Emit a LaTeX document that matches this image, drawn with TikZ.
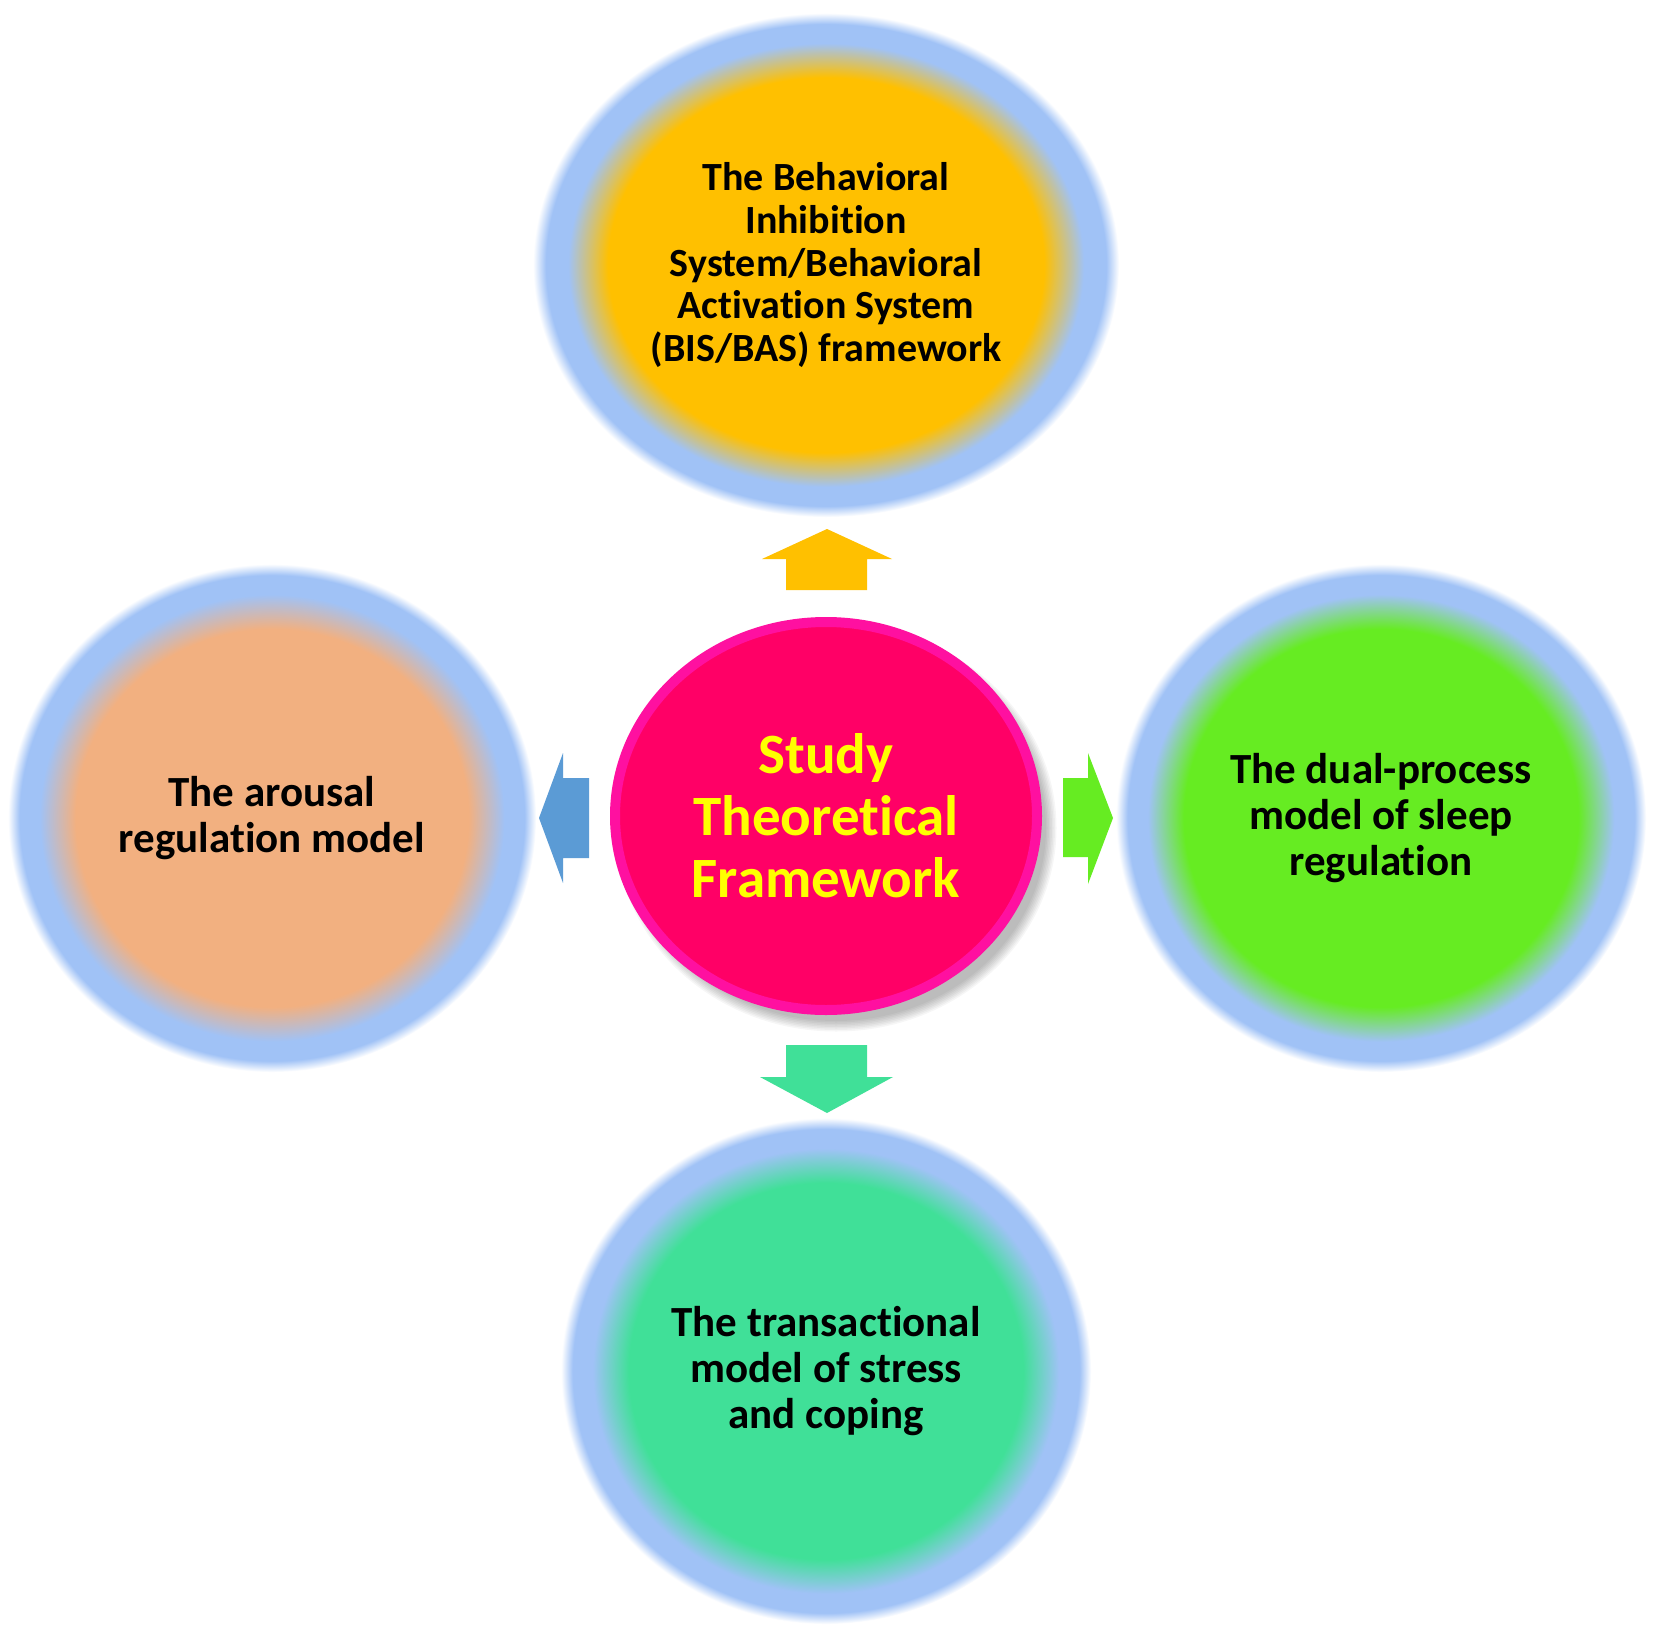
\documentclass[tikz,border=0pt]{standalone}
\usepackage{fontspec}
\setmainfont{Carlito}[Ligatures=NoCommon]
\usetikzlibrary{shapes.geometric}
\definecolor{ringblue}{RGB}{160,194,246}
\definecolor{cOrange}{RGB}{255,192,0}
\definecolor{cSalmon}{RGB}{242,176,128}
\definecolor{cGreen}{RGB}{102,236,34}
\definecolor{cTeal}{RGB}{64,224,152}
\definecolor{cBlueArrow}{RGB}{91,155,213}
\definecolor{cMagenta}{RGB}{255,0,102}
\definecolor{cPinkRim}{RGB}{255,16,160}
\definecolor{cYellow}{RGB}{255,255,0}
\newcommand\myringshading[2]{%
  \pgfdeclareradialshading{#1}{\pgfpointorigin}{%
    color(0bp)=(#2); color(18.6bp)=(#2); color(22bp)=(ringblue);
    color(23.9bp)=(ringblue); color(25bp)=(white); color(50bp)=(white)}}
\myringshading{ringOrange}{cOrange}
\myringshading{ringSalmon}{cSalmon}
\myringshading{ringGreen}{cGreen}
\myringshading{ringTeal}{cTeal}
\tikzset{
  ringnode/.style={ellipse, inner sep=0pt, shade, align=center,
    font=\fontsize{43}{46.4}\selectfont\bfseries, text=black},
  corenode/.style={ellipse, inner sep=0pt, fill=cMagenta, draw=cPinkRim,
    line width=10pt, align=center,
    font=\fontsize{57}{62}\selectfont\bfseries, text=cYellow},
}
\begin{document}
\begin{tikzpicture}[x=1pt,y=-1pt]
\useasboundingbox[fill=white] (0,0) rectangle (1654,1635);
% outer circles
\node[ringnode, shading=ringOrange, minimum width=586pt, minimum height=504pt,
  font=\fontsize{40}{42.7}\selectfont\bfseries] (bis) at (826,265)
  {The Behavioral\\Inhibition\\System/Behavioral\\Activation System\\(BIS/BAS) framework};
\node[ringnode, shading=ringSalmon, minimum width=528pt, minimum height=508pt] (arousal) at (272,818)
  {The arousal\\regulation model};
\node[ringnode, shading=ringGreen, minimum width=530pt, minimum height=508pt] (dual) at (1381,818)
  {The dual-process\\model of sleep\\regulation};
\node[ringnode, shading=ringTeal, minimum width=530pt, minimum height=506pt] (trans) at (826,1371)
  {The transactional\\model of stress\\and coping};
% soft shadow of centre circle
\foreach \i in {0,...,7}
  \fill[black, opacity=0.035] (836,828) ellipse [x radius={210+1.5*\i}, y radius={193+1.5*\i}];
\node[corenode, minimum width=422pt, minimum height=388pt] (core) at (826,816)
  {Study\\Theoretical\\Framework};
% block arrows
\fill[cOrange] (786,590) -- (786,559) -- (762,559) -- (827,529) -- (892,559)
  -- (867,559) -- (867,590) -- cycle;
\fill[cTeal] (786,1045) -- (786,1077) -- (760,1077) -- (827,1113) -- (893,1077)
  -- (867,1077) -- (867,1045) -- cycle;
\fill[cBlueArrow] (589,778) -- (563,778) -- (563,753) -- (539,818) -- (563,883)
  -- (563,858) -- (589,858) -- cycle;
\fill[cGreen] (1063,778) -- (1088,778) -- (1088,753) -- (1113,818) -- (1088,884)
  -- (1088,857) -- (1063,857) -- cycle;
\end{tikzpicture}
\end{document}
